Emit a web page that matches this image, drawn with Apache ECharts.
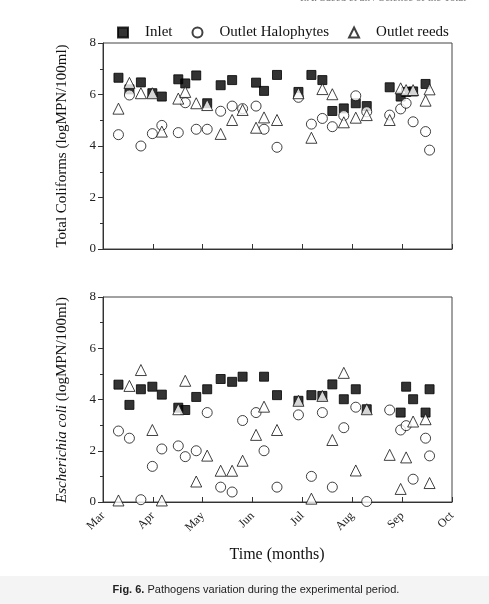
<!DOCTYPE html>
<html>
<head>
<meta charset="utf-8">
<script src="https://cdn.jsdelivr.net/npm/echarts@6/dist/echarts.min.js"></script>
<style>
html,body{margin:0;padding:0;background:#fff;}
#chart{width:489px;height:604px;}
</style>
</head>
<body>
<div id="chart"></div>
<script>
// Month labels (x axis, value 0 = 1 March)
var monthLabels = ['Mar', 'Apr', 'May', 'Jun', 'Jul', 'Aug', 'Sep', 'Oct'];
// Sampling dates, in months after 1 March
var sampleDates = [0.31, 0.53, 0.76, 0.99, 1.18, 1.51, 1.65, 1.87, 2.09, 2.36, 2.59, 2.80, 3.07, 3.23,
                   3.49, 3.92, 4.18, 4.40, 4.60, 4.83, 5.07, 5.29, 5.75, 5.97, 6.08, 6.22, 6.47, 6.55];
// Total coliforms (logMPN/100ml)
var tcInlet = [6.65, 6.20, 6.47, 6.05, 5.92, 6.59, 6.43, 6.74, 5.66, 6.36, 6.56, null, 6.46, 6.14,
               6.76, 6.10, 6.76, 6.56, 5.36, 5.46, 5.66, 5.55, 6.28, 5.92, 6.10, 6.12, 6.41, null];
var tcHalophytes = [4.44, 5.98, 4.00, 4.48, 4.80, 4.52, 5.68, 4.65, 4.65, 5.35, 5.55, 5.45, 5.55, 4.65,
                    3.95, 5.89, 4.85, 5.07, 4.75, 5.18, 5.95, 5.33, 5.20, 5.44, 5.66, 4.94, 4.56, 3.84];
var tcReeds = [5.45, 6.45, 6.05, 6.05, 4.56, 5.84, 6.10, 5.66, 5.59, 4.47, 5.01, 5.40, 4.71, 5.11,
               5.01, 6.05, 4.32, 6.21, 6.01, 4.92, 5.10, 5.20, 5.01, 6.24, 6.17, 6.17, 5.76, 6.20];
// Escherichia coli (logMPN/100ml)
var ecInlet = [4.58, 3.79, 4.40, 4.50, 4.19, 3.68, 3.59, 4.10, 4.40, 4.80, 4.69, 4.89, null, 4.89,
               4.17, 3.95, 4.17, 4.14, 4.59, 4.01, 4.40, 3.62, null, 3.49, 4.50, 4.01, 3.49, 4.40];
var ecHalophytes = [2.77, 2.49, 0.09, 1.39, 2.07, 2.19, 1.77, 2.00, 3.49, 0.58, 0.39, 3.18, 3.49, 2.00,
                    0.58, 3.40, 1.00, 3.49, 0.58, 2.90, 3.70, 0.02, 3.59, 2.81, 2.98, 0.89, 2.49, 1.80];
var ecReeds = [0.06, 4.53, 5.15, 2.81, 0.06, 3.62, 4.73, 0.80, 1.81, 1.22, 1.22, 1.61, 2.62, 3.72,
               2.81, 3.95, 0.13, 4.14, 2.42, 5.04, 1.23, 3.62, 1.84, 0.51, 1.74, 3.14, 3.23, 0.74];
var yTicks = [0, 2, 4, 6, 8];

function pairs(vals) {
  var out = [];
  for (var i = 0; i < sampleDates.length; i++) {
    if (vals[i] !== null) out.push([sampleDates[i], vals[i]]);
  }
  return out;
}

var serif = 'Liberation Serif, Times New Roman, serif';
var axisColor = '#333';

function xAxisCfg(idx, showLabels) {
  return {
    type: 'value', gridIndex: idx, min: 0, max: monthLabels.length - 1, interval: 1,
    axisLine: {show: true, onZero: false, lineStyle: {color: axisColor, width: 1}},
    axisTick: {show: true, inside: true, length: 5, lineStyle: {color: axisColor}},
    splitLine: {show: false},
    axisLabel: {
      show: showLabels, rotate: 45, margin: 12, fontFamily: serif, fontSize: 12, color: '#222',
      formatter: function (v) { return monthLabels[Math.round(v)] || ''; }
    }
  };
}
function yAxisCfg(idx) {
  return {
    type: 'value', gridIndex: idx, min: yTicks[0], max: yTicks[yTicks.length - 1], interval: 2,
    axisLine: {show: true, lineStyle: {color: axisColor, width: 1}},
    axisTick: {show: true, inside: false, length: 5, lineStyle: {color: axisColor}},
    minorTick: {show: true, splitNumber: 2, length: 3, lineStyle: {color: axisColor}},
    splitLine: {show: false},
    axisLabel: {fontFamily: serif, fontSize: 13, color: '#222', margin: 7}
  };
}

function scatter(name, idx, vals, kind) {
  var s = {
    name: name, type: 'scatter', xAxisIndex: idx, yAxisIndex: idx, data: pairs(vals),
    symbolSize: 9, itemStyle: {color: '#000', borderColor: '#000', borderWidth: 1}
  };
  if (kind === 'square') { s.symbol = 'rect'; s.symbolSize = 9; s.z = 2; }
  if (kind === 'circle') { s.symbol = 'circle'; s.symbolSize = 10; s.itemStyle = {color: '#fff', borderColor: '#111', borderWidth: 1}; s.z = 3; }
  if (kind === 'triangle') { s.symbol = 'triangle'; s.symbolSize = 11; s.itemStyle = {color: '#fff', borderColor: '#111', borderWidth: 1}; s.z = 4; }
  return s;
}

var chart = echarts.init(document.getElementById('chart'), null, {renderer: 'canvas'});
chart.setOption({
  backgroundColor: '#fff',
  animation: false,
  legend: {
    left: 112, top: 20, itemWidth: 10, itemHeight: 10, itemGap: 19,
    textStyle: {fontFamily: serif, fontSize: 15, color: '#111', padding: [0, 0, 0, 12]},
    data: ['Inlet', 'Outlet Halophytes', 'Outlet reeds']
  },
  grid: [
    {left: 103, top: 43, width: 349, height: 206, show: true, borderColor: '#444', borderWidth: 1, backgroundColor: 'transparent'},
    {left: 103, top: 297, width: 349, height: 205, show: true, borderColor: '#444', borderWidth: 1, backgroundColor: 'transparent'}
  ],
  xAxis: [xAxisCfg(0, false), xAxisCfg(1, true)],
  yAxis: [yAxisCfg(0), yAxisCfg(1)],
  series: [
    scatter('Inlet', 0, tcInlet, 'square'),
    scatter('Outlet Halophytes', 0, tcHalophytes, 'circle'),
    scatter('Outlet reeds', 0, tcReeds, 'triangle'),
    scatter('Inlet', 1, ecInlet, 'square'),
    scatter('Outlet Halophytes', 1, ecHalophytes, 'circle'),
    scatter('Outlet reeds', 1, ecReeds, 'triangle')
  ],
  graphic: [
    {type: 'rect', left: 0, top: 576, shape: {width: 489, height: 28}, style: {fill: '#f4f4f4'}, z: -10},
    {type: 'text', left: 300, top: -7, style: {text: 'I.A. Saeed et al. / Science of the Total', fill: '#777', font: '11px Liberation Serif'}},
    {type: 'text', x: 62, y: 146, rotation: Math.PI / 2,
      style: {text: 'Total Coliforms (logMPN/100ml)', fill: '#111', font: '15px Liberation Serif', align: 'center', verticalAlign: 'middle'}},
    {type: 'text', x: 62, y: 400, rotation: Math.PI / 2,
      style: {text: '{i|Escherichia coli} (logMPN/100ml)', fill: '#111', font: '15px Liberation Serif', align: 'center', verticalAlign: 'middle',
        rich: {i: {fontStyle: 'italic', fontFamily: 'Liberation Serif', fontSize: 15, fill: '#111'}}}},
    {type: 'text', x: 277, y: 555,
      style: {text: 'Time (months)', fill: '#111', font: '16px Liberation Serif', align: 'center', verticalAlign: 'middle'}},
    {type: 'text', x: 256, y: 590,
      style: {text: '{b|Fig. 6.} Pathogens variation during the experimental period.', fill: '#222', font: '11px Liberation Sans', align: 'center', verticalAlign: 'middle',
        rich: {b: {fontWeight: 'bold', fontFamily: 'Liberation Sans', fontSize: 11, fill: '#222'}}}}
  ]
});
</script>
</body>
</html>
